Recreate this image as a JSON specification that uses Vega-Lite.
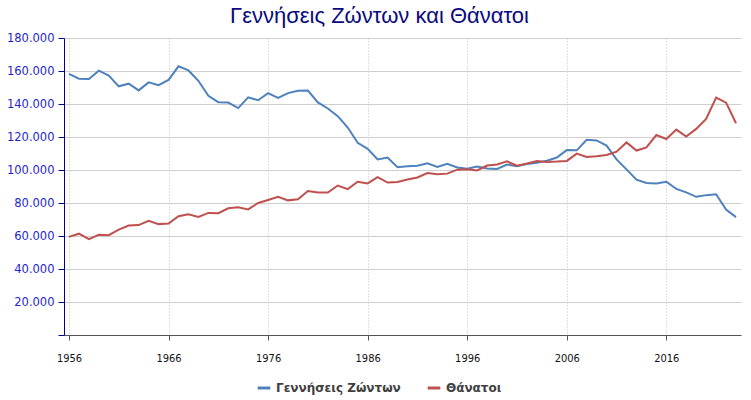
{
  "$schema": "https://vega.github.io/schema/vega-lite/v6.json",
  "width": 677,
  "height": 297,
  "autosize": "none",
  "padding": {"left": 64, "top": 38, "right": 10, "bottom": 65},
  "background": "white",
  "title": {
    "text": "Γεννήσεις Ζώντων και Θάνατοι",
    "font": "Liberation Sans",
    "fontSize": 22,
    "fontWeight": "normal",
    "color": "#0a0a80",
    "anchor": "middle",
    "dx": -23,
    "offset": 4
  },
  "data": {
    "values": [
      {"year": 1956, "series": "Γεννήσεις Ζώντων", "value": 158203},
      {"year": 1957, "series": "Γεννήσεις Ζώντων", "value": 155359},
      {"year": 1958, "series": "Γεννήσεις Ζώντων", "value": 155129},
      {"year": 1959, "series": "Γεννήσεις Ζώντων", "value": 160199},
      {"year": 1960, "series": "Γεννήσεις Ζώντων", "value": 157239},
      {"year": 1961, "series": "Γεννήσεις Ζώντων", "value": 150716},
      {"year": 1962, "series": "Γεννήσεις Ζώντων", "value": 152328},
      {"year": 1963, "series": "Γεννήσεις Ζώντων", "value": 148249},
      {"year": 1964, "series": "Γεννήσεις Ζώντων", "value": 153109},
      {"year": 1965, "series": "Γεννήσεις Ζώντων", "value": 151448},
      {"year": 1966, "series": "Γεννήσεις Ζώντων", "value": 154613},
      {"year": 1967, "series": "Γεννήσεις Ζώντων", "value": 162839},
      {"year": 1968, "series": "Γεννήσεις Ζώντων", "value": 160338},
      {"year": 1969, "series": "Γεννήσεις Ζώντων", "value": 154077},
      {"year": 1970, "series": "Γεννήσεις Ζώντων", "value": 144928},
      {"year": 1971, "series": "Γεννήσεις Ζώντων", "value": 141126},
      {"year": 1972, "series": "Γεννήσεις Ζώντων", "value": 140891},
      {"year": 1973, "series": "Γεννήσεις Ζώντων", "value": 137526},
      {"year": 1974, "series": "Γεννήσεις Ζώντων", "value": 144069},
      {"year": 1975, "series": "Γεννήσεις Ζώντων", "value": 142273},
      {"year": 1976, "series": "Γεννήσεις Ζώντων", "value": 146566},
      {"year": 1977, "series": "Γεννήσεις Ζώντων", "value": 143739},
      {"year": 1978, "series": "Γεννήσεις Ζώντων", "value": 146588},
      {"year": 1979, "series": "Γεννήσεις Ζώντων", "value": 147965},
      {"year": 1980, "series": "Γεννήσεις Ζώντων", "value": 148134},
      {"year": 1981, "series": "Γεννήσεις Ζώντων", "value": 140953},
      {"year": 1982, "series": "Γεννήσεις Ζώντων", "value": 137275},
      {"year": 1983, "series": "Γεννήσεις Ζώντων", "value": 132608},
      {"year": 1984, "series": "Γεννήσεις Ζώντων", "value": 125724},
      {"year": 1985, "series": "Γεννήσεις Ζώντων", "value": 116481},
      {"year": 1986, "series": "Γεννήσεις Ζώντων", "value": 112810},
      {"year": 1987, "series": "Γεννήσεις Ζώντων", "value": 106392},
      {"year": 1988, "series": "Γεννήσεις Ζώντων", "value": 107505},
      {"year": 1989, "series": "Γεννήσεις Ζώντων", "value": 101657},
      {"year": 1990, "series": "Γεννήσεις Ζώντων", "value": 102229},
      {"year": 1991, "series": "Γεννήσεις Ζώντων", "value": 102620},
      {"year": 1992, "series": "Γεννήσεις Ζώντων", "value": 104081},
      {"year": 1993, "series": "Γεννήσεις Ζώντων", "value": 101799},
      {"year": 1994, "series": "Γεννήσεις Ζώντων", "value": 103763},
      {"year": 1995, "series": "Γεννήσεις Ζώντων", "value": 101495},
      {"year": 1996, "series": "Γεννήσεις Ζώντων", "value": 100718},
      {"year": 1997, "series": "Γεννήσεις Ζώντων", "value": 102038},
      {"year": 1998, "series": "Γεννήσεις Ζώντων", "value": 100894},
      {"year": 1999, "series": "Γεννήσεις Ζώντων", "value": 100643},
      {"year": 2000, "series": "Γεννήσεις Ζώντων", "value": 103274},
      {"year": 2001, "series": "Γεννήσεις Ζώντων", "value": 102282},
      {"year": 2002, "series": "Γεννήσεις Ζώντων", "value": 103569},
      {"year": 2003, "series": "Γεννήσεις Ζώντων", "value": 104420},
      {"year": 2004, "series": "Γεννήσεις Ζώντων", "value": 105655},
      {"year": 2005, "series": "Γεννήσεις Ζώντων", "value": 107545},
      {"year": 2006, "series": "Γεννήσεις Ζώντων", "value": 112042},
      {"year": 2007, "series": "Γεννήσεις Ζώντων", "value": 111926},
      {"year": 2008, "series": "Γεννήσεις Ζώντων", "value": 118302},
      {"year": 2009, "series": "Γεννήσεις Ζώντων", "value": 117933},
      {"year": 2010, "series": "Γεννήσεις Ζώντων", "value": 114766},
      {"year": 2011, "series": "Γεννήσεις Ζώντων", "value": 106428},
      {"year": 2012, "series": "Γεννήσεις Ζώντων", "value": 100371},
      {"year": 2013, "series": "Γεννήσεις Ζώντων", "value": 94134},
      {"year": 2014, "series": "Γεννήσεις Ζώντων", "value": 92149},
      {"year": 2015, "series": "Γεννήσεις Ζώντων", "value": 91847},
      {"year": 2016, "series": "Γεννήσεις Ζώντων", "value": 92898},
      {"year": 2017, "series": "Γεννήσεις Ζώντων", "value": 88553},
      {"year": 2018, "series": "Γεννήσεις Ζώντων", "value": 86440},
      {"year": 2019, "series": "Γεννήσεις Ζώντων", "value": 83756},
      {"year": 2020, "series": "Γεννήσεις Ζώντων", "value": 84767},
      {"year": 2021, "series": "Γεννήσεις Ζώντων", "value": 85346},
      {"year": 2022, "series": "Γεννήσεις Ζώντων", "value": 76095},
      {"year": 2023, "series": "Γεννήσεις Ζώντων", "value": 71455},
      {"year": 1956, "series": "Θάνατοι", "value": 59470},
      {"year": 1957, "series": "Θάνατοι", "value": 61400},
      {"year": 1958, "series": "Θάνατοι", "value": 58100},
      {"year": 1959, "series": "Θάνατοι", "value": 60700},
      {"year": 1960, "series": "Θάνατοι", "value": 60500},
      {"year": 1961, "series": "Θάνατοι", "value": 63900},
      {"year": 1962, "series": "Θάνατοι", "value": 66300},
      {"year": 1963, "series": "Θάνατοι", "value": 66600},
      {"year": 1964, "series": "Θάνατοι", "value": 69200},
      {"year": 1965, "series": "Θάνατοι", "value": 67200},
      {"year": 1966, "series": "Θάνατοι", "value": 67600},
      {"year": 1967, "series": "Θάνατοι", "value": 72000},
      {"year": 1968, "series": "Θάνατοι", "value": 73100},
      {"year": 1969, "series": "Θάνατοι", "value": 71600},
      {"year": 1970, "series": "Θάνατοι", "value": 74000},
      {"year": 1971, "series": "Θάνατοι", "value": 73800},
      {"year": 1972, "series": "Θάνατοι", "value": 76800},
      {"year": 1973, "series": "Θάνατοι", "value": 77400},
      {"year": 1974, "series": "Θάνατοι", "value": 76100},
      {"year": 1975, "series": "Θάνατοι", "value": 80000},
      {"year": 1976, "series": "Θάνατοι", "value": 81800},
      {"year": 1977, "series": "Θάνατοι", "value": 83700},
      {"year": 1978, "series": "Θάνατοι", "value": 81600},
      {"year": 1979, "series": "Θάνατοι", "value": 82300},
      {"year": 1980, "series": "Θάνατοι", "value": 87300},
      {"year": 1981, "series": "Θάνατοι", "value": 86300},
      {"year": 1982, "series": "Θάνατοι", "value": 86300},
      {"year": 1983, "series": "Θάνατοι", "value": 90600},
      {"year": 1984, "series": "Θάνατοι", "value": 88400},
      {"year": 1985, "series": "Θάνατοι", "value": 92900},
      {"year": 1986, "series": "Θάνατοι", "value": 91900},
      {"year": 1987, "series": "Θάνατοι", "value": 95700},
      {"year": 1988, "series": "Θάνατοι", "value": 92400},
      {"year": 1989, "series": "Θάνατοι", "value": 92700},
      {"year": 1990, "series": "Θάνατοι", "value": 94200},
      {"year": 1991, "series": "Θάνατοι", "value": 95500},
      {"year": 1992, "series": "Θάνατοι", "value": 98200},
      {"year": 1993, "series": "Θάνατοι", "value": 97400},
      {"year": 1994, "series": "Θάνατοι", "value": 97800},
      {"year": 1995, "series": "Θάνατοι", "value": 100200},
      {"year": 1996, "series": "Θάνατοι", "value": 100500},
      {"year": 1997, "series": "Θάνατοι", "value": 99700},
      {"year": 1998, "series": "Θάνατοι", "value": 102700},
      {"year": 1999, "series": "Θάνατοι", "value": 103300},
      {"year": 2000, "series": "Θάνατοι", "value": 105200},
      {"year": 2001, "series": "Θάνατοι", "value": 102600},
      {"year": 2002, "series": "Θάνατοι", "value": 103900},
      {"year": 2003, "series": "Θάνατοι", "value": 105500},
      {"year": 2004, "series": "Θάνατοι", "value": 104900},
      {"year": 2005, "series": "Θάνατοι", "value": 105100},
      {"year": 2006, "series": "Θάνατοι", "value": 105500},
      {"year": 2007, "series": "Θάνατοι", "value": 109900},
      {"year": 2008, "series": "Θάνατοι", "value": 107900},
      {"year": 2009, "series": "Θάνατοι", "value": 108300},
      {"year": 2010, "series": "Θάνατοι", "value": 109100},
      {"year": 2011, "series": "Θάνατοι", "value": 111100},
      {"year": 2012, "series": "Θάνατοι", "value": 116700},
      {"year": 2013, "series": "Θάνατοι", "value": 111800},
      {"year": 2014, "series": "Θάνατοι", "value": 113700},
      {"year": 2015, "series": "Θάνατοι", "value": 121200},
      {"year": 2016, "series": "Θάνατοι", "value": 118800},
      {"year": 2017, "series": "Θάνατοι", "value": 124500},
      {"year": 2018, "series": "Θάνατοι", "value": 120300},
      {"year": 2019, "series": "Θάνατοι", "value": 124900},
      {"year": 2020, "series": "Θάνατοι", "value": 131000},
      {"year": 2021, "series": "Θάνατοι", "value": 143900},
      {"year": 2022, "series": "Θάνατοι", "value": 140800},
      {"year": 2023, "series": "Θάνατοι", "value": 128300}
    ]
  },
  "mark": {"type": "line", "strokeWidth": 2},
  "encoding": {
    "x": {
      "field": "year",
      "type": "quantitative",
      "scale": {"domain": [1955.5, 2023.5], "nice": false, "zero": false},
      "axis": {
        "title": null,
        "values": [1956, 1966, 1976, 1986, 1996, 2006, 2016],
        "format": "d",
        "labelFont": "DejaVu Sans Condensed, DejaVu Sans",
        "labelFontSize": 11,
        "labelColor": "#111111",
        "labelPadding": 12,
        "tickSize": 5,
        "tickColor": "#555555",
        "domainColor": "#555555",
        "gridColor": "#c0c0c0",
        "gridDash": [1, 2]
      }
    },
    "y": {
      "field": "value",
      "type": "quantitative",
      "scale": {"domain": [0, 180000], "nice": false},
      "axis": {
        "title": null,
        "values": [0, 20000, 40000, 60000, 80000, 100000, 120000, 140000, 160000, 180000],
        "labelExpr": "datum.value == 0 ? '' : replace(format(datum.value, ','), ',', '.')",
        "labelFont": "DejaVu Sans",
        "labelFontSize": 11.5,
        "labelColor": "#1f1fcf",
        "labelPadding": 4,
        "tickSize": 6,
        "tickColor": "#00008b",
        "domainColor": "#00008b",
        "gridColor": "#cfcfcf"
      }
    },
    "color": {
      "field": "series",
      "type": "nominal",
      "scale": {"domain": ["Γεννήσεις Ζώντων", "Θάνατοι"], "range": ["#4f81bd", "#c0504d"]},
      "legend": {
        "title": null,
        "orient": "none",
        "direction": "horizontal",
        "legendX": 192,
        "legendY": 342,
        "symbolType": "stroke",
        "symbolStrokeWidth": 3,
        "symbolSize": 160,
        "labelFont": "DejaVu Sans",
        "labelFontSize": 12,
        "labelFontWeight": "bold",
        "labelColor": "#404040",
        "columnPadding": 20
      }
    }
  },
  "config": {"view": {"stroke": null}}
}
